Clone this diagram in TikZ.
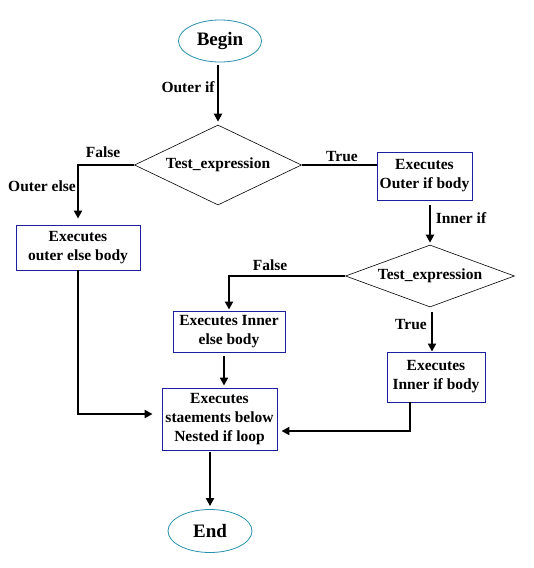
\documentclass[tikz,border=0pt]{standalone}
\usepackage{fontspec}
\setmainfont{Liberation Serif}
\usetikzlibrary{shapes.geometric,arrows.meta}
\definecolor{boxblue}{RGB}{30,30,160}
\definecolor{ovalteal}{RGB}{40,145,170}
\tikzset{
  every node/.style={font=\bfseries\fontsize{15.5}{19}\selectfont, align=center, inner sep=0pt},
  oval/.style={ellipse, draw=ovalteal, line width=0.8pt, font=\bfseries\fontsize{19}{21}\selectfont},
  test/.style={diamond, draw=black, line width=0.6pt},
  body/.style={rectangle, draw=boxblue, line width=0.9pt},
  flow/.style={line width=2.5pt, line cap=butt},
  arr/.style={flow, -{Triangle[length=8pt,width=8pt]}},
  lbl/.style={anchor=center}
}
\begin{document}
\begin{tikzpicture}[x=1pt, y=-1pt]
\useasboundingbox (0,0) rectangle (534,568);
% start and end
\node[oval, minimum width=83pt, minimum height=42pt] (begin) at (220,41) {Begin};
\node[oval, minimum width=84pt, minimum height=43pt] (end) at (210,531) {End};
% the two tests
\node[test, aspect=2.09, minimum width=167pt, minimum height=80pt] (outer) at (218,165) {\raisebox{4pt}{Test\_expression}};
\node[test, aspect=2.73, minimum width=169pt, minimum height=62pt] (inner) at (430,276) {\raisebox{3pt}{Test\_expression}};
% bodies
\node[body, minimum width=95pt, minimum height=48pt] (outerif) at (424.5,176) {Executes\\Outer if body};
\node[body, minimum width=124pt, minimum height=45pt] (outerelse) at (78,247.5) {Executes\\ outer else body};
\node[body, minimum width=112pt, minimum height=41pt] (innerelse) at (229,331.5) {Executes Inner\\else body};
\node[body, minimum width=98pt, minimum height=50pt] (innerif) at (436,377) {Executes\\Inner if body};
\node[body, minimum width=115pt, minimum height=62pt] (below) at (219.5,419) {Executes\\staements below\\Nested if loop};
% connectors
\draw[arr, shorten <=3pt, shorten >=3pt] (outer.north |- begin.south) -- (outer.north);
\draw[arr, shorten >=6pt] (outer.west) -| (outerelse.north);
\draw[flow] (outer.east) -- (outer.east -| outerif.west);
\draw[arr, shorten <=5pt, shorten >=2pt] (inner.north |- outerif.south) -- (inner.north);
\draw[arr, shorten >=1pt] (inner.west) -| (innerelse.north);
\draw[arr, shorten <=5pt] ([xshift=2pt]inner.south) -- ([xshift=2pt]inner.south |- innerif.north);
\draw[arr, shorten <=4pt, shorten >=2pt] ([xshift=-5pt]innerelse.south) -- ([xshift=-5pt]innerelse.south |- below.north);
\draw[arr, shorten >=9pt] (outerelse.south) |- ([yshift=5pt]below.west);
\draw[arr, shorten >=4pt] ([xshift=-26pt]innerif.south) |- ([yshift=-12pt]below.east);
\draw[arr, shorten <=2pt, shorten >=3pt] (end.north |- below.south) -- (end.north);
% labels
\node[lbl] (louterif) at (188,87) {Outer if};
\node[lbl] (lfalse1) at (103,152) {False};
\node[lbl] (louterelse) at (42,186) {Outer else};
\node[lbl] (ltrue1) at (342,157) {True};
\node[lbl] (linnerif) at (461,218) {Inner if};
\node[lbl] (lfalse2) at (270,265) {False};
\node[lbl] (ltrue2) at (411,325) {True};
\end{tikzpicture}
\end{document}
